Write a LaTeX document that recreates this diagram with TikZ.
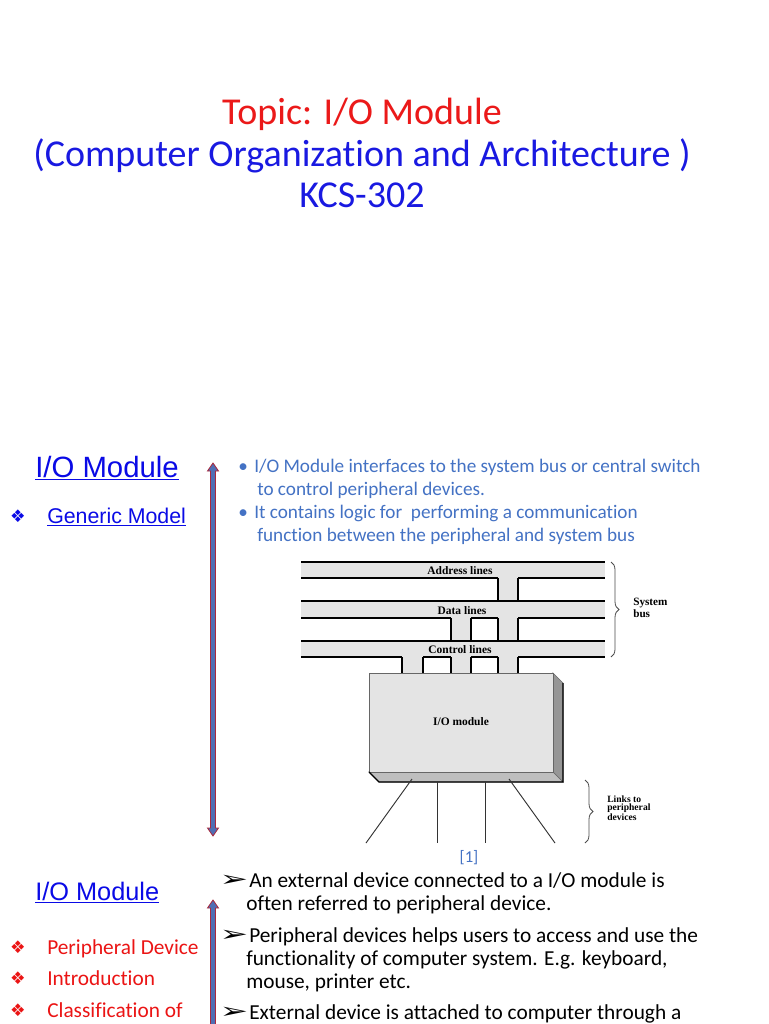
\documentclass[tikz,border=0pt]{standalone}
\usepackage{fontspec}
\setmainfont{Carlito}[Ligatures=CommonOff]
\newfontfamily\arialf{Liberation Sans}
\newfontfamily\timesf{Liberation Serif}
\newfontfamily\djv{DejaVu Sans}
\usetikzlibrary{decorations.pathreplacing}
\definecolor{tred}{RGB}{235,25,25}
\definecolor{tblue}{RGB}{25,25,225}
\definecolor{hblue}{RGB}{10,10,230}
\definecolor{sblue}{RGB}{68,114,196}
\definecolor{abl}{RGB}{79,110,180}
\definecolor{ared}{RGB}{170,40,60}
\definecolor{barfill}{RGB}{228,228,228}
\definecolor{sidef}{RGB}{150,150,150}
\definecolor{botf}{RGB}{190,190,190}
\definecolor{redi}{RGB}{235,20,20}
\begin{document}
\begin{tikzpicture}[x=0.75pt,y=-0.75pt,
  title/.style={inner sep=0pt, anchor=mid, font=\fontsize{28.5}{34}\selectfont},
  head/.style={inner sep=0pt, anchor=mid west, text=hblue},
  bl/.style={inner sep=0pt, anchor=mid west, text=sblue, font=\fontsize{14.4}{17}\selectfont},
  bk/.style={inner sep=0pt, anchor=mid west, text=black, font=\fontsize{16}{19}\selectfont},
  rd/.style={inner sep=0pt, anchor=mid west, text=redi, font=\fontsize{16}{19}\selectfont},
  dia/.style={inner sep=0pt, anchor=mid, font=\djv\fontsize{13}{15}\selectfont},
  arr/.style={inner sep=0pt, anchor=mid, xscale=1.6, font=\djv\fontsize{16}{18}\selectfont},
  lbl/.style={inner sep=0pt, font=\timesf\bfseries\fontsize{8.6}{9}\selectfont},
  slbl/.style={inner sep=0pt, anchor=west, align=left, font=\timesf\bfseries\fontsize{8.4}{7}\selectfont},
  llbl/.style={inner sep=0pt, anchor=west, align=left, font=\timesf\bfseries\fontsize{7.2}{6.4}\selectfont},
  bar/.style={fill=barfill},
  edge/.style={draw=black, line width=0.9pt},
  link/.style={draw=black!80, line width=0.7pt},
  vbrace/.style={draw=black!70, line width=0.6pt, decorate, decoration={brace, amplitude=6pt}},
  bigarrow/.style={fill=abl, draw=ared, line width=0.6pt}
]
\useasboundingbox (0,0) rectangle (768,1024);
\fill[white] (0,0) rectangle (768,1024);
\clip (0,0) rectangle (768,1024);

% Title
\node[title, text=tred] (t1) at (362,121) {Topic: I/O Module};
\node[title, text=tblue] (t2) at (362,163) {(Computer Organization and Architecture )};
\node[title, text=tblue] (t3) at (362,204) {KCS-302};

% Section 1 left
\node[head, font=\arialf\fontsize{22}{26}\selectfont] (h1) at (35,474) {\underline{I/O Module}};
\node[dia, text=hblue] (d1) at (18,519) {❖};
\node[head, font=\arialf\fontsize{16}{19}\selectfont] (g1) at (47,520) {\underline{Generic Model}};

% big arrow 1
\path[bigarrow] (213,463) -- (218.5,471) -- (215.5,471) -- (215.5,828) -- (218.5,828) -- (213,836)
  -- (207.5,828) -- (210.5,828) -- (210.5,471) -- (207.5,471) -- cycle;

% bullets section 1
\node[bl] (b1) at (238,469) {•};
\node[bl] (l1) at (254,469) {I/O Module interfaces to the system bus or central switch};
\node[bl] (l2) at (257,492) {to control peripheral devices.};
\node[bl] (b2) at (238,515) {•};
\node[bl] (l3) at (254,515) {It contains logic for\ \ performing a communication};
\node[bl] (l4) at (257,538) {function between the peripheral and system bus};

% Diagram: stems (fill)
\fill[barfill] (498,578) rectangle (518,673);
\fill[barfill] (451,618) rectangle (471,673);
\fill[barfill] (402,657) rectangle (423,673);
\draw[edge] (498,578) -- (498,601) (518,578) -- (518,601)
            (498,618) -- (498,641) (518,618) -- (518,641)
            (498,657) -- (498,673) (518,657) -- (518,673);
\draw[edge] (451,618) -- (451,641) (471,618) -- (471,641)
            (451,657) -- (451,673) (471,657) -- (471,673);
\draw[edge] (402,657) -- (402,673) (423,657) -- (423,673);

% bars
\fill[bar] (301,562) rectangle (605,578);
\fill[bar] (301,601) rectangle (605,618);
\fill[bar] (301,641) rectangle (605,657);
\fill[barfill] (499,577) rectangle (517,602);
\fill[barfill] (499,617) rectangle (517,642);
\fill[barfill] (452,617) rectangle (470,642);
\draw[edge] (301,562) -- (605,562);
\draw[edge] (301,578) -- (498,578) (518,578) -- (605,578);
\draw[edge] (301,601) -- (605,601);
\draw[edge] (301,618) -- (451,618) (471,618) -- (498,618) (518,618) -- (605,618);
\draw[edge] (301,641) -- (605,641);
\draw[edge] (301,657) -- (402,657) (423,657) -- (451,657) (471,657) -- (498,657) (518,657) -- (605,657);
\node[lbl] (al) at (460,571) {Address lines};
\node[lbl] (dl) at (462,611) {Data lines};
\node[lbl] (cl) at (460,650) {Control lines};

% I/O module 3D box
\path[fill=sidef, draw=black!60, line width=0.5pt] (553,673) -- (563,683) -- (563,782) -- (553,772) -- cycle;
\path[fill=botf, draw=black!60, line width=0.5pt] (369,772) -- (553,772) -- (563,782) -- (379,782) -- cycle;
\node[fill=barfill, draw=black!60, line width=0.5pt, minimum width=184*0.75pt, minimum height=99*0.75pt, inner sep=0pt, anchor=north west] (io) at (369,673) {};
\node[lbl] (iol) at (461,722) {I/O module};
\draw[edge, line width=1pt] (369,772) -- (379,782) -- (563,782) -- (563,683);

% links
\coordinate (p1) at (366,843);
\coordinate (p2) at (437,843);
\coordinate (p3) at (485,843);
\coordinate (p4) at (555,843);
\draw[link] (412,779) -- (p1);
\draw[link] (437,782) -- (p2);
\draw[link] (485,782) -- (p3);
\draw[link] (509,779) -- (p4);

% braces
\draw[vbrace] (611,562) -- (611,657);
\node[slbl] (sb) at (633,608) {System\\bus};
\draw[vbrace] (585,780) -- (585,843);
\node[llbl] (lp) at (607,808) {Links to\\peripheral\\devices};

\node[inner sep=0pt, anchor=mid, text=sblue, font=\fontsize{12.5}{14}\selectfont] (ref) at (469,859) {[1]};

% Section 2 left
\node[head, font=\arialf\fontsize{19}{22}\selectfont] (h2) at (35,897) {\underline{I/O Module}};
\path[bigarrow] (213,900) -- (218.5,908) -- (215.5,908) -- (215.5,1040) -- (210.5,1040) -- (210.5,908) -- (207.5,908) -- cycle;
\node[dia, text=redi] (d2) at (18,950) {❖};
\node[rd] (r1) at (47,951) {Peripheral Device};
\node[dia, text=redi] (d3) at (18,981) {❖};
\node[rd] (r2) at (47,982) {Introduction};
\node[dia, text=redi] (d4) at (18,1013) {❖};
\node[rd] (r3) at (47,1014) {Classification of};

% Section 2 right
\node[arr] (a1) at (234,883) {➢};
\node[bk] (m1) at (249,884) {An external device connected to a I/O module is};
\node[bk] (m2) at (246,907) {often referred to peripheral device.};
\node[arr] (a2) at (234,938) {➢};
\node[bk] (m3) at (249,939) {Peripheral devices helps users to access and use the};
\node[bk] (m4) at (246,962) {functionality of computer system. E.g. keyboard,};
\node[bk] (m5) at (246,985) {mouse, printer etc.};
\node[arr] (a3) at (234,1015) {➢};
\node[bk] (m6) at (249,1016) {External device is attached to computer through a};
\end{tikzpicture}
\end{document}
